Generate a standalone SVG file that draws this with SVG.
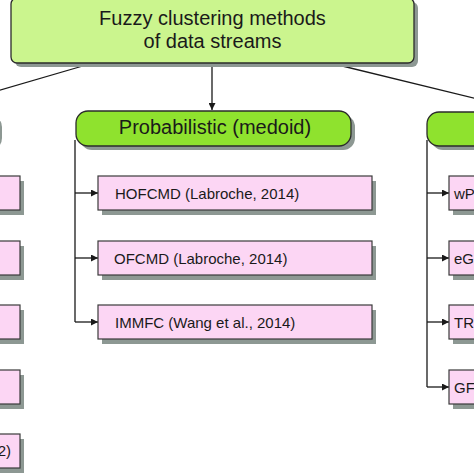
<svg xmlns="http://www.w3.org/2000/svg" width="474" height="474" viewBox="0 0 474 474">
<style>
.sh{fill:#8d9893}
.top{fill:#cbf58e;stroke:#2b2b2b;stroke-width:1.3}
.grn{fill:#8fe22e;stroke:#2b2b2b;stroke-width:1.3}
.pk{fill:#fcd6f4;stroke:#3a3a3a;stroke-width:1.2}
.t{font-family:"Liberation Sans",Arial,sans-serif;fill:#1a1a1a}
.big{font-size:20px}
.sm{font-size:15px}
.ln{stroke:#1a1a1a;stroke-width:1.3;fill:none}
</style>
<defs>
<marker id="ah" viewBox="0 0 10 10" refX="10" refY="5" markerWidth="7" markerHeight="7" markerUnits="userSpaceOnUse" orient="auto">
<path d="M0,0 L10,5 L0,10 z" fill="#1a1a1a"/>
</marker>
</defs>
<rect width="474" height="474" fill="#ffffff"/>
<g id="connectors">
<line class="ln" x1="93" y1="63" x2="-10" y2="93"/>
<line class="ln" x1="330" y1="63" x2="490" y2="102"/>
<line class="ln" x1="212" y1="63" x2="212" y2="110" marker-end="url(#ah)"/>
<path class="ln" d="M75,140 V322"/>
<line class="ln" x1="75" y1="193" x2="98" y2="193" marker-end="url(#ah)"/>
<line class="ln" x1="75" y1="258" x2="98" y2="258" marker-end="url(#ah)"/>
<line class="ln" x1="75" y1="322" x2="98" y2="322" marker-end="url(#ah)"/>
<path class="ln" d="M427,140 V387"/>
<line class="ln" x1="427" y1="193" x2="449" y2="193" marker-end="url(#ah)"/>
<line class="ln" x1="427" y1="258" x2="449" y2="258" marker-end="url(#ah)"/>
<line class="ln" x1="427" y1="322" x2="449" y2="322" marker-end="url(#ah)"/>
<line class="ln" x1="427" y1="387" x2="449" y2="387" marker-end="url(#ah)"/>
</g>
<g id="root">
<rect class="sh" x="15" y="2" width="403" height="65" rx="6"/>
<rect class="top" x="11" y="-2" width="403" height="65" rx="6"/>
<text class="t big" x="212.5" y="25" text-anchor="middle">Fuzzy clustering methods</text>
<text class="t big" x="212.5" y="48" text-anchor="middle">of data streams</text>
</g>
<g id="left-category">
<rect class="sh" x="-98" y="115" width="100" height="35" rx="12"/>
<rect class="grn" x="-102" y="111" width="100" height="35" rx="12"/>
</g>
<g id="probabilistic-medoid">
<rect class="sh" x="80" y="115" width="275" height="35" rx="12"/>
<rect class="grn" x="76" y="111" width="275" height="35" rx="12"/>
<text class="t big" x="215" y="133.5" text-anchor="middle">Probabilistic (medoid)</text>
</g>
<g id="right-category">
<rect class="sh" x="431" y="116" width="100" height="34" rx="12"/>
<rect class="grn" x="427" y="112" width="100" height="34" rx="12"/>
</g>
<g id="left-item-1">
<rect class="sh" x="-76" y="181" width="100" height="34"/>
<rect class="pk" x="-80" y="176" width="100" height="34"/>
</g>
<g id="left-item-2">
<rect class="sh" x="-76" y="246" width="100" height="34"/>
<rect class="pk" x="-80" y="241" width="100" height="34"/>
</g>
<g id="left-item-3">
<rect class="sh" x="-76" y="310" width="100" height="34"/>
<rect class="pk" x="-80" y="305" width="100" height="34"/>
</g>
<g id="left-item-4">
<rect class="sh" x="-76" y="375" width="100" height="34"/>
<rect class="pk" x="-80" y="370" width="100" height="34"/>
</g>
<g id="left-item-5">
<rect class="sh" x="-76" y="439" width="100" height="34"/>
<rect class="pk" x="-80" y="434" width="100" height="34"/>
<text class="t sm" x="11" y="456" text-anchor="end">2)</text>
</g>
<g id="hofcmd">
<rect class="sh" x="102" y="181" width="274" height="34"/>
<rect class="pk" x="98" y="176" width="274" height="34"/>
<text class="t sm" x="115" y="199">HOFCMD (Labroche, 2014)</text>
</g>
<g id="ofcmd">
<rect class="sh" x="102" y="246" width="274" height="34"/>
<rect class="pk" x="98" y="241" width="274" height="34"/>
<text class="t sm" x="114" y="263.5">OFCMD (Labroche, 2014)</text>
</g>
<g id="immfc">
<rect class="sh" x="102" y="310" width="274" height="34"/>
<rect class="pk" x="98" y="305" width="274" height="34"/>
<text class="t sm" x="115" y="328">IMMFC (Wang et al., 2014)</text>
</g>
<g id="right-item-1">
<rect class="sh" x="453" y="181" width="100" height="34"/>
<rect class="pk" x="449" y="176" width="100" height="34"/>
<text class="t sm" x="454" y="199">wP</text>
</g>
<g id="right-item-2">
<rect class="sh" x="453" y="246" width="100" height="34"/>
<rect class="pk" x="449" y="241" width="100" height="34"/>
<text class="t sm" x="454" y="263.5">eG</text>
</g>
<g id="right-item-3">
<rect class="sh" x="453" y="310" width="100" height="34"/>
<rect class="pk" x="449" y="305" width="100" height="34"/>
<text class="t sm" x="454" y="328">TR</text>
</g>
<g id="right-item-4">
<rect class="sh" x="453" y="375" width="100" height="34"/>
<rect class="pk" x="449" y="370" width="100" height="34"/>
<text class="t sm" x="454" y="392.5">GF</text>
</g>
</svg>
